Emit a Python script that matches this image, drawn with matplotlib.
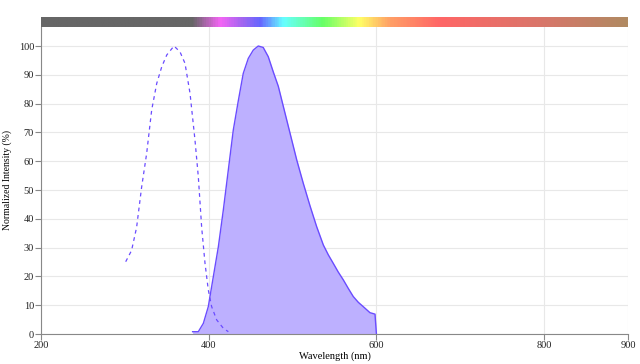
import numpy as np
import matplotlib.pyplot as plt
from matplotlib.colors import LinearSegmentedColormap

plt.rcParams['font.family'] = ['Liberation Serif', 'DejaVu Serif']

# Excitation spectrum (dashed)
ex_wl = [301, 308, 314, 320, 326, 332, 338, 344, 350, 358.6, 365.7, 371.7, 377.7,
         383.6, 387.6, 391.6, 395.6, 399.5, 403.5, 409.5, 417.4, 423.4]
ex_int = [25.1, 29, 37, 51, 62.7, 77.8, 87, 92.8, 96.9, 100, 98, 94, 83.6,
          67.4, 54.6, 37, 24.5, 15.3, 9.5, 4.9, 2, 0.8]

# Emission spectrum (filled)
em_wl = [380.8, 387.6, 393.6, 399.5, 405.5, 411.5, 417.4, 423.4, 429.3, 435.3, 441.2,
         447.2, 453.2, 459.1, 465, 471, 477, 483, 489, 497, 505, 512.8, 520.8, 528.7,
         536.7, 542.6, 548.6, 554.5, 560.5, 566.5, 572.4, 578.4, 584.3, 592.3, 598.3, 600]
em_int = [0.8, 0.8, 3.7, 9.5, 19.9, 30.3, 43, 57, 70.8, 81, 90.5,
          95.7, 98.6, 100, 99.5, 96.3, 91, 86, 79, 69.7, 60.4, 52.3, 44.5, 37.3,
          30.9, 27.5, 24.5, 21.5, 18.8, 15.8, 13, 11, 9.5, 7.4, 6.9, 0]

xticks = [200, 400, 600, 800, 900]
yticks = list(range(0, 101, 10))

# colour bar stops (wavelength, colour)
spec_stops = [(200, '#666666'), (380, '#666666'), (413, '#f565f5'), (440, '#a066f0'),
              (461, '#6666ff'), (489, '#66ffff'), (536, '#66ff66'), (580, '#ffff66'),
              (616, '#ffa066'), (676, '#ff6666'), (800, '#d8766a'), (900, '#b08a62')]

fig = plt.figure(figsize=(6.4, 3.64), dpi=100)
ax = fig.add_axes([41 / 640, 30 / 364, 587 / 640, 307 / 364])

line_col = '#6a4cff'
ax.fill_between(em_wl, em_int, color='#bdb0ff', lw=0)
ax.plot(em_wl, em_int, color=line_col, lw=1)
ax.plot(ex_wl, ex_int, color=line_col, lw=0.9, ls=(0, (3, 3)))

ax.set_xlim(200, 900)
ax.set_ylim(0, 106.6)
ax.set_xticks(xticks)
ax.set_yticks(yticks)
ax.grid(True, color='#e8e8e8', lw=0.8)
ax.set_axisbelow(True)
for s in ['top', 'right']:
    ax.spines[s].set_visible(False)
for s in ['left', 'bottom']:
    ax.spines[s].set_color('#888888')
ax.tick_params(colors='#888888', labelcolor='#222222', labelsize=7.5, length=4, pad=1)
ax.set_xlabel('Wavelength (nm)', fontsize=7.5, labelpad=1)
ax.set_ylabel('Normalized Intensity (%)', fontsize=7, labelpad=5)

# spectrum strip on top
bar = fig.add_axes([41 / 640, 337 / 364, 587 / 640, 10 / 364])
pos = [(w - 200) / 700 for w, _ in spec_stops]
cmap = LinearSegmentedColormap.from_list('spec', list(zip(pos, [c for _, c in spec_stops])))
bar.imshow(np.linspace(0, 1, 700)[None, :], aspect='auto', cmap=cmap, extent=[200, 900, 0, 1])
bar.set_axis_off()

fig.savefig('out.png', dpi=100)
